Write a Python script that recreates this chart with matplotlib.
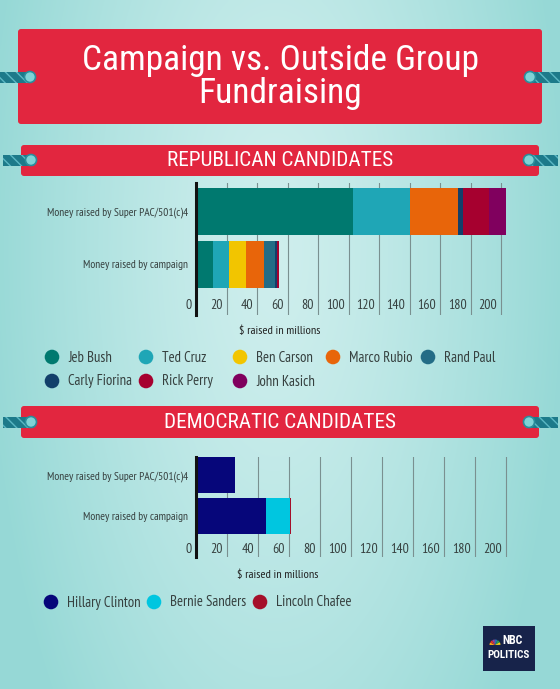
import matplotlib

matplotlib.use("Agg")
import matplotlib.pyplot as plt
import numpy as np
from matplotlib.patches import Circle, FancyBboxPatch, Rectangle, Wedge

plt.rcParams["font.family"] = ["PT Sans Narrow", "DejaVu Sans"]
HEAD = ["Roboto Condensed", "DejaVu Sans"]

W, H = 560, 689

# data ($ millions)
rows = ["Money raised by Super PAC/501(c)4", "Money raised by campaign"]
ticks = [0, 20, 40, 60, 80, 100, 120, 140, 160, 180, 200]

rep_names = ["Jeb Bush", "Ted Cruz", "Ben Carson", "Marco Rubio", "Rand Paul",
             "Carly Fiorina", "Rick Perry", "John Kasich"]
rep_colors = ["#00796f", "#1fa6b6", "#f2c500", "#e8650a", "#236c86",
              "#123f6a", "#a6002f", "#80005e"]
rep_superpac = [103.0, 37.0, 0.0, 32.0, 0.0, 2.9, 17.0, 11.4]
rep_campaign = [11.4, 10.3, 11.0, 11.6, 7.4, 1.3, 1.1, 0.0]

dem_names = ["Hillary Clinton", "Bernie Sanders", "Lincoln Chafee"]
dem_colors = ["#06067a", "#00c6e0", "#a50f2a"]
dem_superpac = [25.0, 0.0, 0.0]
dem_campaign = [45.4, 15.4, 0.4]

RED = "#e2263f"
TXT = "#36403f"

fig = plt.figure(figsize=(W / 100, H / 100), dpi=100)

# background gradient
bg = fig.add_axes([0, 0, 1, 1])
xx, yy = np.meshgrid(np.linspace(0, W, 280), np.linspace(0, H, 345))
d = np.sqrt(((xx - 275) / 290) ** 2 + ((yy - 250) / 700) ** 2)
d = np.clip(d, 0, 1) ** 1.3
c_in = np.array([0.81, 0.935, 0.93])
c_out = np.array([0.59, 0.85, 0.84])
img = c_in[None, None, :] * (1 - d[..., None]) + c_out[None, None, :] * d[..., None]
bg.imshow(img, extent=[0, W, H, 0], aspect="auto", interpolation="bilinear")
bg.set_xlim(0, W)
bg.set_ylim(H, 0)
bg.axis("off")


def rope(x0, x1, yc, gx):
    bg.add_patch(Rectangle((x0, yc - 5.5), x1 - x0, 11, facecolor="#1d7a8a",
                           edgecolor="#5bb8c4", hatch="\\\\\\", linewidth=0, zorder=3))
    bg.add_patch(Circle((gx, yc), 5.5, facecolor="#7fd3d6", edgecolor="#2a8e9c",
                        linewidth=1.2, zorder=4))


def banner(x0, y0, x1, y1, text, size, yt):
    bg.add_patch(FancyBboxPatch((x0, y0), x1 - x0, y1 - y0,
                                boxstyle="round,pad=0,rounding_size=3",
                                facecolor=RED, edgecolor="none", zorder=2))
    bg.text((x0 + x1) / 2, yt, text, color="white", fontsize=size, family=HEAD,
            ha="center", va="center", linespacing=1.0, zorder=5)


banner(18, 29, 542, 124, "Campaign vs. Outside Group\nFundraising", 25.5, 77)
rope(0, 32, 77, 30)
rope(528, 560, 77, 530)
banner(21, 145, 539, 176, "REPUBLICAN CANDIDATES", 15.3, 161)
rope(3, 34, 160, 31)
rope(526, 558, 160, 529)
banner(21, 406, 539, 438, "DEMOCRATIC CANDIDATES", 15.3, 423)
rope(3, 34, 422, 31)
rope(526, 558, 422, 529)


def bar_panel(top, bottom, ppu, c_top, c_bot, bar_h, stacks, colors):
    right = 535
    ax = fig.add_axes([196 / W, 1 - bottom / H, (right - 196) / W, (bottom - top) / H])
    ax.patch.set_alpha(0)
    sp = c_bot - c_top
    ax.set_ylim(1 + (bottom - c_bot) / sp, -(c_top - top) / sp)
    ax.set_xlim(0, (right - 196) / ppu)
    left = np.zeros(2)
    for vals, col in zip(np.array(stacks).T, colors):
        ax.barh([0, 1], vals, left=left, height=bar_h / sp, color=col,
                linewidth=0, zorder=3)
        left += vals
    for t in ticks[1:]:
        ax.axvline(t, color="#7a9090", linewidth=0.8, zorder=1)
    for t in ticks:
        ax.text(t - 4 / ppu, 0.075, str(t), transform=ax.get_xaxis_transform(),
                ha="right", va="center", fontsize=10, color=TXT)
    for s in ["top", "right", "bottom"]:
        ax.spines[s].set_visible(False)
    ax.spines["left"].set_linewidth(2.2)
    ax.spines["left"].set_color("#111111")
    ax.spines["left"].set_zorder(4)
    ax.set_xticks([])
    ax.set_yticks([0, 1], rows, fontsize=8.3, color=TXT)
    ax.tick_params(axis="y", length=0, pad=6)
    return ax


bar_panel(183, 315, 1.525, 211.5, 264.2, 47,
          [rep_superpac, rep_campaign], rep_colors)
bar_panel(457, 557, 1.548, 475, 515.5, 36,
          [dem_superpac, dem_campaign], dem_colors)

bg.text(280, 331, "$ raised in millions", fontsize=8.8, ha="center", va="center",
        color="#222222")
bg.text(278, 575, "$ raised in millions", fontsize=8.8, ha="center", va="center",
        color="#222222")


def legend(names, colors, xs, ys):
    for n, c, x, y in zip(names, colors, xs, ys):
        bg.add_patch(Circle((x, y), 7.3, facecolor=c, edgecolor="none", zorder=3))
        bg.text(x + 16, y + 0.5, n, fontsize=10.6, ha="left", va="center", color=TXT)


col_x = [52, 146, 240, 333, 428]
legend(rep_names, rep_colors,
       col_x + col_x[:3], [357] * 5 + [381] * 3)
legend(dem_names, dem_colors, [51, 154, 260], [602] * 3)

# NBC Politics badge
bg.add_patch(Rectangle((483, 626), 52, 45, facecolor="#17234a", edgecolor="none", zorder=3))
for i, c in enumerate(["#f6a21d", "#e5322d", "#8d4a9e", "#2a6fb6", "#26a35a", "#f7d217"]):
    a0 = 180 - i * 30
    bg.add_patch(Wedge((495, 645), 5.5, -a0, -a0 + 28, facecolor=c, edgecolor="none", zorder=4))
bg.text(502, 641, "NBC", fontsize=8.5, color="white", ha="left", va="center",
        fontweight="bold", family=HEAD, zorder=5)
bg.text(509, 655, "POLITICS", fontsize=8, color="white", ha="center", va="center",
        fontweight="bold", family=HEAD, zorder=5)

fig.savefig("out.png", dpi=100)
